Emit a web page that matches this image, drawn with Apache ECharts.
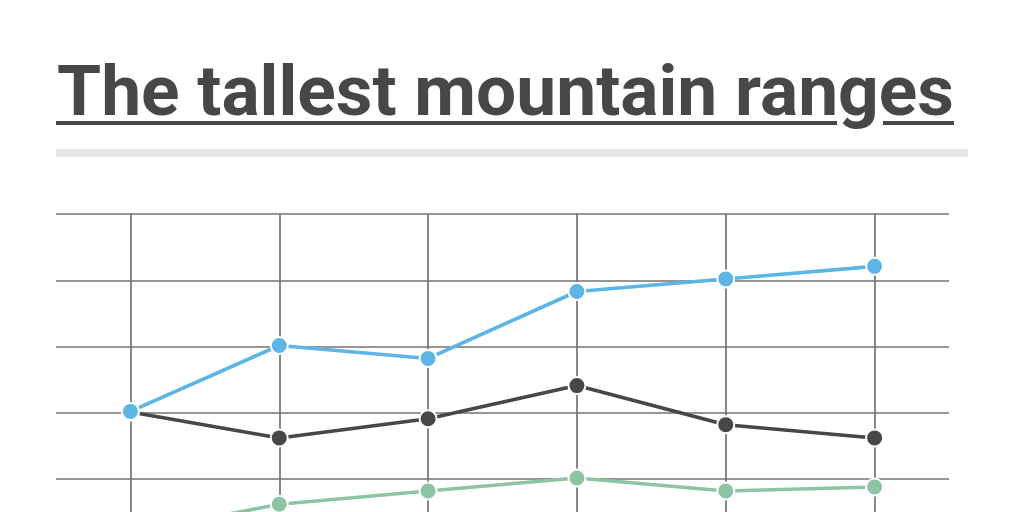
<!DOCTYPE html>
<html>
<head>
<meta charset="utf-8">
<script src="https://cdn.jsdelivr.net/npm/echarts@6/dist/echarts.min.js"></script>
<style>
html,body{margin:0;padding:0;overflow:hidden;background:#fff;}
#chart{width:1024px;height:700px;}
</style>
</head>
<body>
<div id="chart"></div>
<script>
const titleText = 'The tallest mountain ranges';
const categories = ['1', '2', '3', '4', '5', '6'];
const seriesBlue = [5020, 6015, 5820, 6830, 7020, 7210];
const seriesDark = [5010, 4620, 4910, 5410, 4820, 4620];
const seriesGreen = [3185, 3620, 3820, 4015, 3820, 3880];
const yMin = 2000, yMax = 8000, yInterval = 1000;

const chart = echarts.init(document.getElementById('chart'), null, {renderer: 'canvas'});

function lineSeries(name, data, color) {
  return {
    name: name,
    type: 'line',
    data: data,
    symbol: 'circle',
    symbolSize: 17,
    showSymbol: true,
    lineStyle: {color: color, width: 3.6},
    itemStyle: {color: color, borderColor: '#fff', borderWidth: 2},
    emphasis: {disabled: true},
    z: 3
  };
}

chart.setOption({
  animation: false,
  backgroundColor: '#fff',
  title: {
    text: titleText,
    left: 52,
    top: 57,
    textStyle: {
      fontFamily: 'Roboto',
      fontWeight: 'bold',
      fontSize: 71.3,
      color: '#474747'
    }
  },
  graphic: [
    {type: 'rect', shape: {x: 56, y: 121, width: 781, height: 4}, style: {fill: '#474747'}},
    {type: 'rect', shape: {x: 883, y: 121, width: 71, height: 4}, style: {fill: '#474747'}},
    {type: 'rect', shape: {x: 56, y: 149, width: 912, height: 8}, style: {fill: '#e6e6e6'}}
  ],
  grid: {left: 56, right: 75, top: 214, height: 397.5, containLabel: false},
  xAxis: {
    type: 'category',
    data: categories,
    boundaryGap: true,
    axisLine: {show: false},
    axisTick: {show: false},
    axisLabel: {show: false},
    splitLine: {show: true, alignWithLabel: true, lineStyle: {color: '#737373', width: 1.7}}
  },
  yAxis: {
    type: 'value',
    min: yMin,
    max: yMax,
    interval: yInterval,
    axisLine: {show: false},
    axisTick: {show: false},
    axisLabel: {show: false},
    splitLine: {show: true, lineStyle: {color: '#737373', width: 1.7}}
  },
  series: [
    lineSeries('Green', seriesGreen, '#8ec4a6'),
    lineSeries('Dark', seriesDark, '#474747'),
    lineSeries('Blue', seriesBlue, '#5db5e5')
  ]
});
</script>
</body>
</html>
